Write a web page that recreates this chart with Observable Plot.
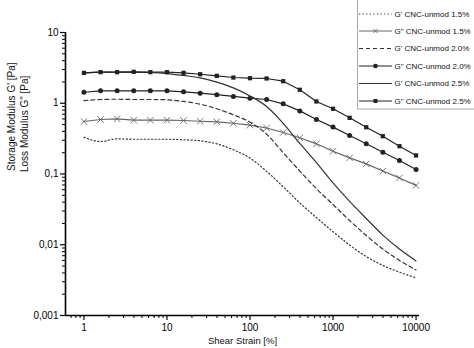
<!DOCTYPE html>
<html>
<head>
<meta charset="utf-8">
<script src="https://cdn.jsdelivr.net/npm/d3@7"></script>
<script src="https://cdn.jsdelivr.net/npm/@observablehq/plot@0.6"></script>
<style>
  html, body { margin: 0; padding: 0; background: #fff; }
  #chart { position: relative; width: 474px; height: 348px; }
</style>
</head>
<body>
<div id="chart"></div>
<script>
// Shear strain [%]
const strain = [1, 1.585, 2.512, 3.981, 6.31, 10, 15.85, 25.12, 39.81, 63.1, 100, 158.5, 251.2, 398.1, 631, 1000, 1585, 2512, 3981, 6310, 10000];
// Moduli [Pa]
const gp15  = [0.331, 0.288, 0.314, 0.31, 0.31, 0.31, 0.305, 0.295, 0.267, 0.22, 0.168, 0.109, 0.066, 0.039, 0.0242, 0.0153, 0.0099, 0.0068, 0.0051, 0.0041, 0.0034];
const gpp15 = [0.552, 0.589, 0.603, 0.576, 0.576, 0.576, 0.57, 0.557, 0.547, 0.522, 0.49, 0.447, 0.386, 0.325, 0.267, 0.21, 0.169, 0.139, 0.11, 0.088, 0.069];
const gp20  = [1.09, 1.13, 1.14, 1.13, 1.13, 1.12, 1.06, 0.97, 0.835, 0.686, 0.54, 0.366, 0.2, 0.11, 0.062, 0.037, 0.022, 0.0135, 0.0087, 0.006, 0.0044];
const gpp20 = [1.43, 1.5, 1.5, 1.5, 1.5, 1.5, 1.45, 1.39, 1.32, 1.25, 1.18, 1.13, 0.98, 0.78, 0.59, 0.46, 0.35, 0.267, 0.203, 0.155, 0.116];
const gp25  = [2.69, 2.75, 2.75, 2.75, 2.72, 2.63, 2.47, 2.29, 1.99, 1.65, 1.27, 0.9, 0.52, 0.27, 0.145, 0.075, 0.041, 0.0235, 0.0137, 0.0087, 0.0059];
const gpp25 = [2.69, 2.75, 2.75, 2.78, 2.75, 2.75, 2.69, 2.57, 2.44, 2.31, 2.26, 2.24, 2.05, 1.55, 1.06, 0.835, 0.622, 0.458, 0.342, 0.247, 0.183];

const seriesNames = ["G' CNC-unmod 1.5%", 'G" CNC-unmod 1.5%', "G' CNC-unmod 2.0%", 'G" CNC-unmod 2.0%', "G' CNC-unmod 2.5%", 'G" CNC-unmod 2.5%'];
const seriesValues = [gp15, gpp15, gp20, gpp20, gp25, gpp25];
const xTicks = [1, 10, 100, 1000, 10000];
const yTicks = [0.001, 0.01, 0.1, 1, 10];
const yTitles = ["Storage Modulus G' [Pa]", 'Loss Modulus G" [Pa]'];
const xTitle = "Shear Strain [%]";

// styles per series
const styles = [
  {stroke: "#333", dash: "1.2,2.4", symbol: null},
  {stroke: "#666", dash: null, symbol: "times"},
  {stroke: "#333", dash: "4,3", symbol: null},
  {stroke: "#222", dash: null, symbol: "circle"},
  {stroke: "#333", dash: null, symbol: null},
  {stroke: "#222", dash: null, symbol: "square"}
];

const rows = s => strain.map((x, i) => ({x, y: seriesValues[s][i]}));

const minor = (lo, hi) => {
  const out = [];
  for (let e = lo; e < hi; e++) for (let m = 2; m <= 9; m++) out.push(m * Math.pow(10, e));
  return out;
};
const xMinor = minor(0, 4).concat([0.7, 0.8, 0.9]);
const yMinor = minor(-3, 1);
const fmt = d => String(d).replace(".", ",");

const marks = [];
// axes
marks.push(Plot.axisX(xTicks, {tickSize: 5, tickPadding: 3, tickFormat: d => String(d), fontSize: 10, label: null, strokeWidth: 1.2}));
marks.push(Plot.axisX(xMinor, {tickSize: 3, tickFormat: () => "", label: null, strokeWidth: 1}));
marks.push(Plot.axisY(yTicks, {tickSize: 5, tickPadding: 2, tickFormat: fmt, fontSize: 10, label: null, strokeWidth: 1.2}));
marks.push(Plot.axisY(yMinor, {tickSize: 3, tickFormat: () => "", label: null, strokeWidth: 1}));
marks.push(Plot.ruleY([0.001], {stroke: "#000", strokeWidth: 1.6}));
marks.push(Plot.ruleX([0.6], {stroke: "#000", strokeWidth: 1.6}));

seriesValues.forEach((v, s) => {
  const st = styles[s];
  marks.push(Plot.line(rows(s), {
    x: "x", y: "y", stroke: st.stroke, strokeWidth: 1.2,
    strokeDasharray: st.dash || undefined,
    curve: st.symbol ? "linear" : "monotone-x"
  }));
  if (st.symbol) {
    const isStroke = st.symbol === "times";
    marks.push(Plot.dot(rows(s), {
      x: "x", y: "y", symbol: st.symbol,
      r: st.symbol === "square" ? 2.4 : (isStroke ? 3 : 2.5),
      fill: isStroke ? "none" : st.stroke,
      stroke: isStroke ? st.stroke : "none",
      strokeWidth: 0.9
    }));
  }
});

// titles
marks.push(Plot.text([yTitles[0]], {text: d => d, frameAnchor: "left", rotate: -90, dx: -54, dy: -3, fontSize: 10, fill: "#111"}));
marks.push(Plot.text([yTitles[1]], {text: d => d, frameAnchor: "left", rotate: -90, dx: -41, dy: -2, fontSize: 10, fill: "#111"}));
marks.push(Plot.text([xTitle], {text: d => d, frameAnchor: "bottom", dy: 28, fontSize: 9.5, fill: "#111"}));

const chart = Plot.plot({
  width: 474,
  height: 348,
  marginLeft: 65,
  marginRight: 55,
  marginTop: 32,
  marginBottom: 33,
  style: {fontFamily: "'Liberation Sans', Arial, sans-serif", fontSize: "10px", color: "#000", background: "#fff"},
  x: {type: "log", domain: [0.6, 11000]},
  y: {type: "log", domain: [0.001, 10]},
  marks
});
document.getElementById("chart").appendChild(chart);

// legend (drawn with d3 onto the SVG)
const svg = d3.select(chart);
const lg = svg.append("g").attr("class", "legend");
lg.append("rect").attr("x", 357.5).attr("y", -1).attr("width", 120).attr("height", 110)
  .attr("fill", "#fff").attr("stroke", "#aaa").attr("stroke-width", 1);
const rowY = [14, 31, 48.5, 66, 83.5, 101];
seriesNames.forEach((name, s) => {
  const st = styles[s];
  const y = rowY[s];
  lg.append("line").attr("x1", 359).attr("x2", 392).attr("y1", y).attr("y2", y)
    .attr("stroke", st.stroke).attr("stroke-width", 1.2)
    .attr("stroke-dasharray", st.dash || null);
  if (st.symbol === "circle") {
    lg.append("circle").attr("cx", 375.5).attr("cy", y).attr("r", 2.3).attr("fill", st.stroke);
  } else if (st.symbol === "square") {
    lg.append("rect").attr("x", 373.5).attr("y", y - 2).attr("width", 4).attr("height", 4).attr("fill", st.stroke);
  } else if (st.symbol === "times") {
    lg.append("path").attr("d", `M${373.5},${y - 2}L${377.5},${y + 2}M${373.5},${y + 2}L${377.5},${y - 2}`)
      .attr("stroke", st.stroke).attr("stroke-width", 0.9);
  }
  lg.append("text").attr("x", 394.5).attr("y", y).attr("dy", "0.35em")
    .attr("text-anchor", "start")
    .attr("font-size", 8).attr("fill", "#111").attr("font-family", "'Liberation Sans', Arial, sans-serif")
    .text(name);
});
</script>
</body>
</html>
